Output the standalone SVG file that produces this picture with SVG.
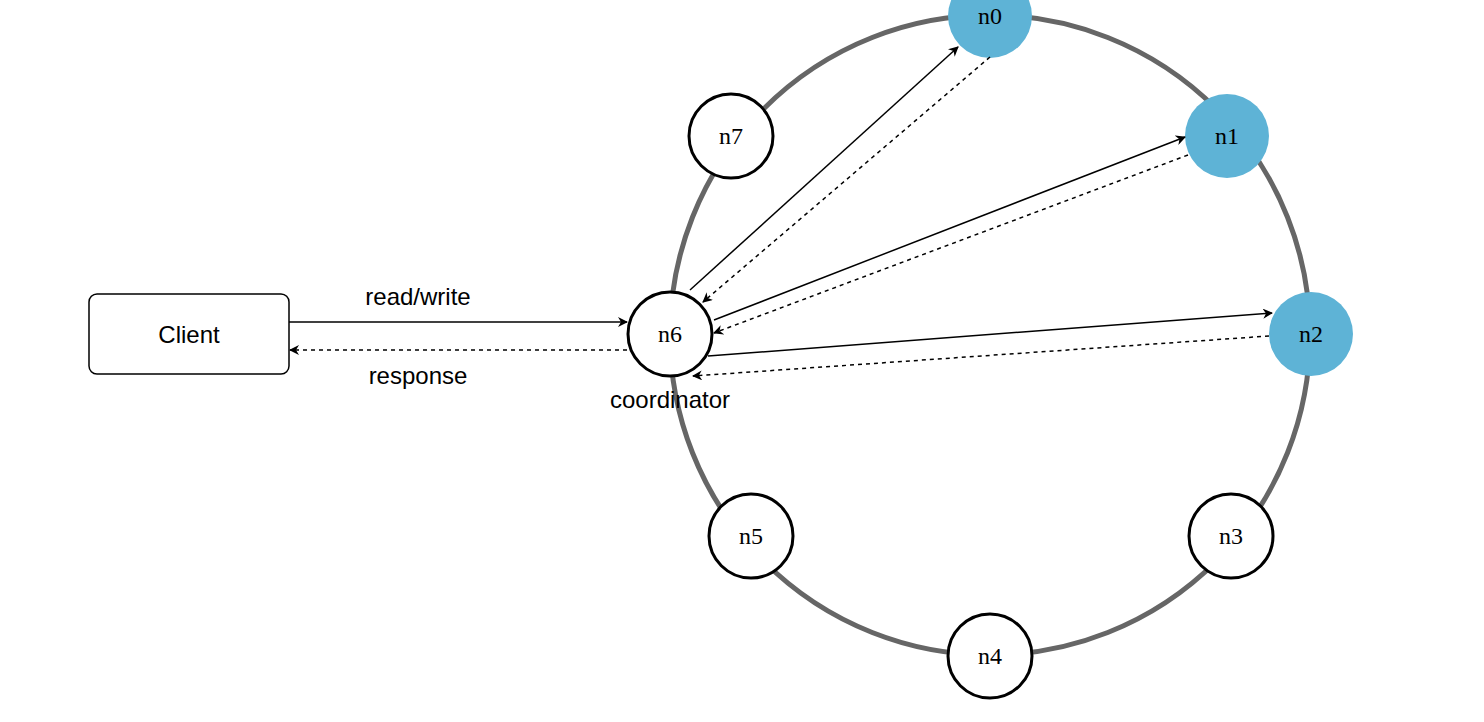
<svg xmlns="http://www.w3.org/2000/svg" width="1484" height="722" viewBox="0 0 1484 722">
<style>
.n{fill:#fff;stroke:#000;stroke-width:3}
.b{fill:#5eb3d6;stroke:none}
.t{font-family:"Liberation Serif",serif;font-size:24px;text-anchor:middle;fill:#000}
.s{font-family:"Liberation Sans",Arial,sans-serif;font-size:24px;text-anchor:middle;fill:#000}
.c{stroke:#000;stroke-width:1.5;fill:none;marker-end:url(#a)}
.d{stroke-dasharray:4 4}
</style>
<defs><marker id="a" markerWidth="10" markerHeight="10" refX="9" refY="5" orient="auto" markerUnits="userSpaceOnUse" viewBox="0 0 10 10"><path d="M0,0 L10,5 L0,10 L3,5 z" fill="#000"/></marker></defs>
<circle cx="990" cy="335" r="320" fill="none" stroke="#666" stroke-width="5"/>
<g id="client"><rect x="89" y="294" width="200" height="80" rx="8" fill="#fff" stroke="#000" stroke-width="1.5"/><text class="s" x="189" y="343">Client</text></g>
<g id="n0"><circle class="b" cx="990" cy="16" r="42"/><text class="t" x="990" y="24">n0</text></g>
<g id="n1"><circle class="b" cx="1227" cy="136" r="42"/><text class="t" x="1227" y="144">n1</text></g>
<g id="n2"><circle class="b" cx="1311" cy="334" r="42"/><text class="t" x="1311" y="342">n2</text></g>
<g id="n3"><circle class="n" cx="1231" cy="536" r="42"/><text class="t" x="1231" y="544">n3</text></g>
<g id="n4"><circle class="n" cx="990" cy="656" r="42"/><text class="t" x="990" y="664">n4</text></g>
<g id="n5"><circle class="n" cx="751" cy="536" r="42"/><text class="t" x="751" y="544">n5</text></g>
<g id="n7"><circle class="n" cx="731" cy="136" r="42"/><text class="t" x="731" y="144">n7</text></g>
<g id="n6"><circle class="n" cx="670" cy="334" r="42"/><text class="t" x="670" y="342">n6</text><text class="s" x="670" y="408">coordinator</text></g>
<g id="connectors">
<path class="c" d="M289,322 L627,322"/>
<path class="c d" d="M627,350 L290,350"/>
<text class="s" x="418" y="305">read/write</text>
<text class="s" x="418" y="384">response</text>
<path class="c" d="M690,290 L958,47"/>
<path class="c d" d="M990,57 L703,302"/>
<path class="c" d="M714,320 L1185,137"/>
<path class="c d" d="M1188,155 L714,333"/>
<path class="c" d="M708,356 L1272,313"/>
<path class="c d" d="M1269,336 L693,376"/>
</g>
</svg>
